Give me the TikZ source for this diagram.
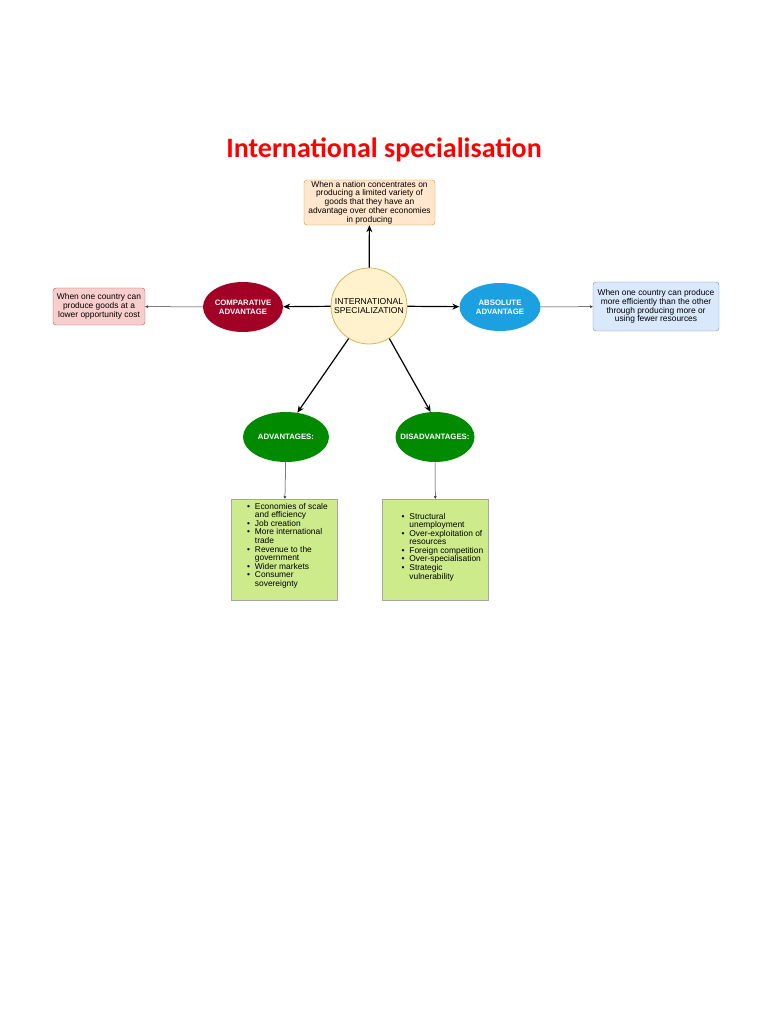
\documentclass[tikz,border=0pt]{standalone}
\usepackage{fontspec}
\setmainfont{Liberation Sans}
\newfontfamily\titlefont{Carlito}
\usetikzlibrary{arrows.meta, shapes.geometric}
\definecolor{compred}{HTML}{A20025}
\definecolor{absblue}{HTML}{1BA1E2}
\definecolor{dkgreen}{HTML}{008A00}
\definecolor{listgreen}{HTML}{CDEB8B}
\definecolor{specfill}{HTML}{FFF2CC}
\definecolor{specline}{HTML}{D6B656}
\definecolor{topfill}{HTML}{FFE6CC}
\definecolor{topline}{HTML}{D79B00}
\definecolor{pinkfill}{HTML}{F8CECC}
\definecolor{pinkline}{HTML}{B85450}
\definecolor{bluefill}{HTML}{DAE8FC}
\definecolor{blueline}{HTML}{6C8EBF}

\begin{document}
\begin{tikzpicture}[x=1pt, y=-1pt,
  note/.style={draw, rounded corners=3pt, align=center, inner sep=0pt,
    font=\fontsize{8.4}{8.8}\selectfont},
  bubble/.style={ellipse, draw=none, text=white, align=center, inner sep=0pt,
    font=\fontsize{7.8}{9}\selectfont\bfseries},
  listbox/.style={draw=gray!70, fill=listgreen, minimum width=106pt, minimum height=101pt, inner sep=0pt},
  listtext/.style={anchor=north west, inner sep=0pt, font=\fontsize{8.4}{8.4}\selectfont},
  mainarrow/.style={-{Stealth[length=7pt, width=6pt]}, line width=1.2pt},
  thinarrow/.style={-{Stealth[length=3pt, width=3pt]}, line width=0.5pt, black!80}]
\useasboundingbox (0,0) rectangle (768,1024);

\node[text=red, font=\titlefont\bfseries\fontsize{28}{32}\selectfont] (title) at (384,150) {International specialisation};

% centre and the four bubbles
\node[circle, draw=specline, fill=specfill, line width=0.8pt, minimum size=76pt, inner sep=0pt,
  align=center, font=\fontsize{8.6}{9.5}\selectfont] (spec) at (369,306) {INTERNATIONAL\\SPECIALIZATION};
\node[bubble, fill=compred, minimum width=80pt, minimum height=50pt] (comp) at (243,307) {COMPARATIVE\\ADVANTAGE};
\node[bubble, fill=absblue, minimum width=81pt, minimum height=48pt] (abs) at (500,307) {ABSOLUTE\\ADVANTAGE};
\node[bubble, fill=dkgreen, minimum width=86pt, minimum height=50pt] (adv) at (286,437) {ADVANTAGES:};
\node[bubble, fill=dkgreen, minimum width=79pt, minimum height=50pt] (disadv) at (435,437) {\makebox[0pt]{DISADVANTAGES:}};

% definitions
\node[note, draw=topline, fill=topfill, minimum width=131pt, minimum height=45pt] (def) at (369.5,202.5)
  {When a nation concentrates on\\producing a limited variety of\\goods that they have an\\advantage over other economies\\in producing};
\node[note, draw=pinkline, fill=pinkfill, minimum width=92pt, minimum height=37pt] (compdef) at (99,306.5)
  {When one country can\\produce goods at a\\lower opportunity cost};
\node[note, draw=blueline, fill=bluefill, minimum width=126pt, minimum height=49pt] (absdef) at (656,306.5)
  {When one country can produce\\more efficiently than the other\\through producing more or\\using fewer resources};

% lists
\node[listbox] (advbox) at (284,549.5) {};
\node[listbox] (disadvbox) at (435.5,549.5) {};
\node[listtext] (advlist) at ([shift={(16,4)}]advbox.north west) {%
  \begin{tabular}{@{}l@{\hspace{5pt}}l@{}}
  \textbullet & Economies of scale\\
              & and efficiency\\
  \textbullet & Job creation\\
  \textbullet & More international\\
              & trade\\
  \textbullet & Revenue to the\\
              & government\\
  \textbullet & Wider markets\\
  \textbullet & Consumer\\
              & sovereignty
  \end{tabular}};
\node[listtext] (disadvlist) at ([shift={(19,14)}]disadvbox.north west) {%
  \begin{tabular}{@{}l@{\hspace{5pt}}l@{}}
  \textbullet & Structural\\
              & unemployment\\
  \textbullet & Over-exploitation of\\
              & resources\\
  \textbullet & Foreign competition\\
  \textbullet & Over-specialisation\\
  \textbullet & Strategic\\
              & vulnerability
  \end{tabular}};

\draw[mainarrow] (spec) -- (def);
\draw[mainarrow] (spec) -- (comp);
\draw[mainarrow] (spec) -- (abs);
\draw[mainarrow] (spec.-122) -- (adv.65);
\draw[mainarrow] (spec.-58) -- (disadv.100);
\draw[thinarrow] (comp) -- (compdef);
\draw[thinarrow] (abs) -- (absdef);
\draw[thinarrow] (adv) -- (advbox);
\draw[thinarrow] (disadv) -- (disadvbox);
\end{tikzpicture}
\end{document}
